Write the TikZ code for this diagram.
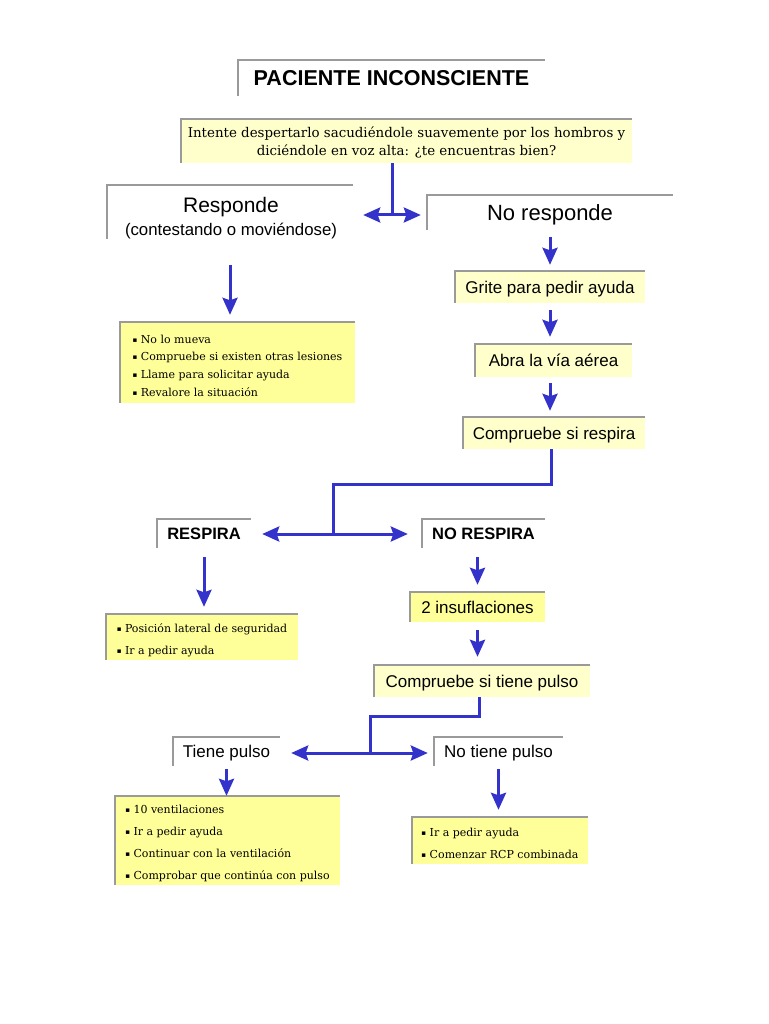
\documentclass[tikz,border=0pt]{standalone}
\usepackage{fontspec}
\setmainfont{Liberation Sans}
\newfontfamily\notefont{DejaVu Serif}
\newfontfamily\symfont{DejaVu Sans}
\usetikzlibrary{arrows.meta}
\definecolor{flowblue}{HTML}{3333CC}
\definecolor{edgegray}{HTML}{9A9A9A}
\definecolor{paleyellow}{HTML}{FFFFCC}
\definecolor{noteyellow}{HTML}{FFFF99}
\tikzset{
  flow/.style={draw=flowblue, line width=3pt},
  >={Stealth[length=17pt,width=15pt,inset=2.5pt]},
  edgeline/.style={draw=edgegray, line width=1.5pt},
  labelbox/.style={inner sep=0pt, text depth=0pt, font=\fontsize{17}{20}\selectfont},
  notebox/.style={inner sep=0pt, fill=noteyellow, align=left,
    font=\notefont\fontsize{11}{22}\selectfont},
}
% gray top and left border of a box
\newcommand\tledge[1]{\draw[edgeline] (#1.north east) -- (#1.north west) -- (#1.south west);}
% taller first line, pushes a list down
\newcommand\lift{\rule{0pt}{14.5pt}}
\newcommand\bul{\raisebox{1pt}{\symfont\fontsize{7}{7}\selectfont ▪} }
\begin{document}
\begin{tikzpicture}[x=1pt,y=-1pt]
  \fill[white] (0,0) rectangle (768,1024);
  \useasboundingbox (0,0) rectangle (768,1024);

  % boxes
  \node[labelbox, font=\bfseries\fontsize{21.5}{24}\selectfont,
    minimum width=307pt, minimum height=36pt] (title) at (391.5,78) {PACIENTE INCONSCIENTE};
  \node[labelbox, fill=paleyellow, align=center, minimum width=451pt, minimum height=44pt,
    font=\notefont\fontsize{13.4}{18}\selectfont] (wake) at (406.5,141)
    {Intente despertarlo sacudiéndole suavemente por los hombros y\\diciéndole en voz alta: ¿te encuentras bien?};
  \node[labelbox, minimum width=246pt, minimum height=54pt] (resp) at (230,212) {};
  \node[labelbox, font=\fontsize{21}{25}\selectfont] (resptext) at (231,204.5) {Responde};
  \node[labelbox, font=\fontsize{16.8}{20}\selectfont] (respnote) at (231,229.5) {(contestando o moviéndose)};
  \node[labelbox, font=\fontsize{22}{26}\selectfont,
    minimum width=246pt, minimum height=35pt] (nores) at (550,212.5) {No responde};
  \node[labelbox, fill=paleyellow, minimum width=190pt, minimum height=32pt] (grite) at (550,287) {Grite para pedir ayuda};
  \node[labelbox, fill=paleyellow, minimum width=157pt, minimum height=33pt] (abra) at (553.5,360.5) {Abra la vía aérea};
  \node[labelbox, fill=paleyellow, minimum width=182pt, minimum height=32pt] (comp) at (554,433) {Compruebe si respira};
  \node[notebox, minimum width=235pt, minimum height=81pt,
    font=\notefont\fontsize{11}{17.7}\selectfont] (moves) at (237.5,362.5)
    {\lift\bul No lo mueva\\\bul Compruebe si existen otras lesiones\\\bul Llame para solicitar ayuda\\\bul Revalore la situación};
  \node[labelbox, font=\bfseries\fontsize{16.5}{20}\selectfont,
    minimum width=94pt, minimum height=29pt] (respira) at (204,533.5) {RESPIRA};
  \node[labelbox, font=\bfseries\fontsize{16.5}{20}\selectfont,
    minimum width=123pt, minimum height=29pt] (noresp) at (483.5,533.5) {NO RESPIRA};
  \node[notebox, minimum width=192pt, minimum height=46pt] (lateral) at (202,637)
    {\lift\bul Posición lateral de seguridad\\\bul Ir a pedir ayuda};
  \node[labelbox, fill=noteyellow, minimum width=135pt, minimum height=30pt] (insu) at (477.5,607) {2 insuflaciones};
  \node[labelbox, fill=paleyellow, minimum width=216pt, minimum height=32pt] (pulso) at (482,681) {Compruebe si tiene pulso};
  \node[labelbox, minimum width=107pt, minimum height=29pt] (tiene) at (226.5,751.5) {Tiene pulso};
  \node[labelbox, minimum width=129pt, minimum height=29pt] (notiene) at (498.5,751.5) {No tiene pulso};
  \node[notebox, minimum width=225pt, minimum height=89pt] (venti) at (227.5,840.5)
    {\lift\bul 10 ventilaciones\\\bul Ir a pedir ayuda\\\bul Continuar con la ventilación\\\bul Comprobar que continúa con pulso};
  \node[notebox, minimum width=176pt, minimum height=47pt] (rcp) at (500,840.5)
    {\lift\bul Ir a pedir ayuda\\\bul Comenzar RCP combinada};

  \foreach \n in {title,wake,resp,nores,grite,abra,comp,moves,respira,noresp,
                  lateral,insu,pulso,tiene,notiene,venti,rcp}
    {\tledge{\n}}

  % junctions
  \coordinate (split1) at (392,215);
  \coordinate (knee2) at (551,484);
  \coordinate (split2) at (333,534);
  \coordinate (knee3) at (479,716);
  \coordinate (split3) at (370,753);

  % connectors
  \draw[flow] (wake.south -| split1) -- (split1);
  \draw[flow,->,shorten >=10pt] (split1) -- (split1 -| resp.east);
  \draw[flow,->,shorten >=6pt] (split1) -- (split1 -| nores.west);
  \draw[flow,->,shorten <=26pt,shorten >=7pt] (resp.south) -- (resp.south |- moves.north);
  \draw[flow,->,shorten <=7pt,shorten >=6pt] (nores.south) -- (nores.south |- grite.north);
  \draw[flow,->,shorten <=7pt,shorten >=7pt] (grite.south) -- (grite.south |- abra.north);
  \draw[flow,->,shorten <=6pt,shorten >=6pt] (abra.south -| grite.south) -- (comp.north -| grite.south);
  \draw[flow] (comp.south -| knee2) -- (knee2) -| (split2);
  \draw[flow,->,shorten >=11pt] (split2) -- (split2 -| respira.east);
  \draw[flow,->,shorten >=14pt] (split2) -- (split2 -| noresp.west);
  \draw[flow,->,shorten <=9pt,shorten >=7pt] (respira.south) -- (respira.south |- lateral.north);
  \draw[flow,->,shorten <=9pt,shorten >=7pt] (noresp.south -| insu.south) -- (insu.north);
  \draw[flow,->,shorten <=8pt,shorten >=8pt] (insu.south) -- (insu.south |- pulso.north);
  \draw[flow] (pulso.south -| knee3) -- (knee3) -| (split3);
  \draw[flow,->,shorten >=11pt] (split3) -- (split3 -| tiene.east);
  \draw[flow,->,shorten >=6pt] (split3) -- (split3 -| notiene.west);
  \draw[flow,->,shorten <=3pt] (tiene.south) -- (tiene.south |- venti.north);
  \draw[flow,->,shorten <=3pt,shorten >=7pt] (notiene.south) -- (notiene.south |- rcp.north);
\end{tikzpicture}
\end{document}
